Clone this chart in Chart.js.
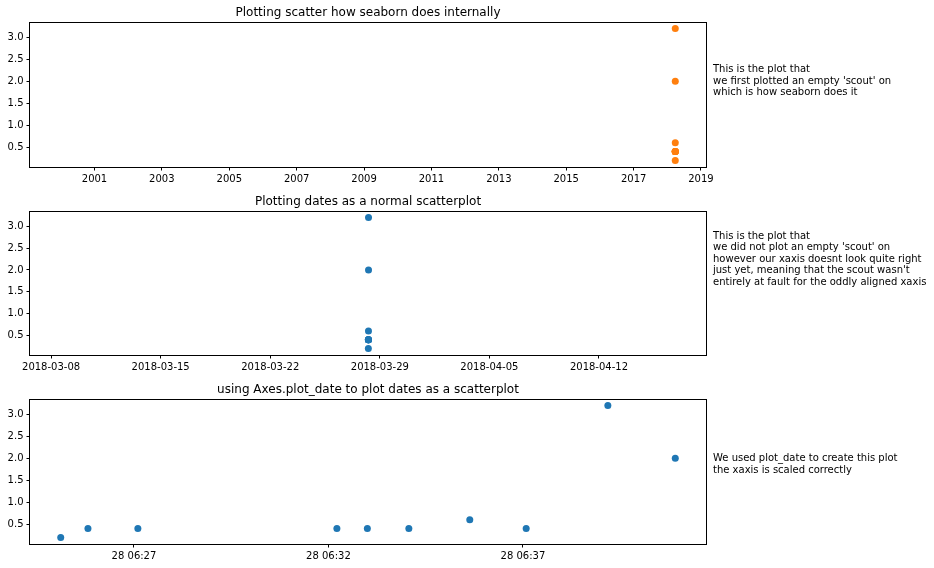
<!DOCTYPE html>
<html lang="en">
<head>
    <meta charset="UTF-8">
    <title>Plotting dates as scatterplots</title>
    <script src="https://cdn.jsdelivr.net/npm/chart.js"></script>
    <style>
        body {
            margin: 0;
            background: #fff;
            font-family: 'DejaVu Sans', sans-serif;
        }
        .page {
            position: relative;
            width: 934px;
            height: 568px;
        }
        .panel {
            position: absolute;
            left: 0;
            width: 736px;
        }
        .note {
            position: absolute;
            left: 713px;
            font-size: 10px;
            line-height: 11.6px;
            color: #000;
            white-space: pre;
        }
    </style>
</head>
<body>
    <div class="page">
        <div class="panel" style="top:0;height:189px"><canvas id="chartTop"></canvas></div>
        <div class="panel" style="top:189px;height:188px"><canvas id="chartMid"></canvas></div>
        <div class="panel" style="top:377px;height:189px"><canvas id="chartBottom"></canvas></div>

        <div class="note" style="top:63px">This is the plot that
we first plotted an empty 'scout' on
which is how seaborn does it</div>
        <div class="note" style="top:229.5px">This is the plot that
we did not plot an empty 'scout' on
however our xaxis doesnt look quite right
just yet, meaning that the scout wasn't
entirely at fault for the oddly aligned xaxis</div>
        <div class="note" style="top:452px">We used plot_date to create this plot
the xaxis is scaled correctly</div>
    </div>

    <script>
        // data shared by all three panels
        const pointTimes = [
            '2018-03-28T06:25:07', '2018-03-28T06:25:49', '2018-03-28T06:27:06',
            '2018-03-28T06:32:13', '2018-03-28T06:33:00', '2018-03-28T06:34:04',
            '2018-03-28T06:35:38', '2018-03-28T06:37:05', '2018-03-28T06:39:11',
            '2018-03-28T06:40:55'
        ];
        const pointValues = [0.2, 0.4, 0.4, 0.4, 0.4, 0.4, 0.6, 0.4, 3.2, 2.0];
        const yTicks = [0.5, 1.0, 1.5, 2.0, 2.5, 3.0];
        const yRange = [0.05, 3.35];

        // panel 1: the empty scout plot started the axis at 2000-01-01
        const scoutStart = '2000-01-01';
        const topTicks = ['2001', '2003', '2005', '2007', '2009', '2011', '2013', '2015', '2017', '2019'];

        // panel 2: plain scatter, matplotlib picked this odd range
        const midTicks = ['2018-03-08', '2018-03-15', '2018-03-22', '2018-03-29', '2018-04-05', '2018-04-12'];
        const midRange = ['2018-03-06T15:40:00', '2018-04-18T20:05:00'];

        // panel 3: plot_date
        const bottomTicks = ['2018-03-28T06:27:00', '2018-03-28T06:32:00', '2018-03-28T06:37:00'];

        const ORANGE = '#ff7f0e';
        const BLUE = '#1f77b4';

        Chart.defaults.font.family = "'DejaVu Sans', sans-serif";
        Chart.defaults.color = '#000';

        // string -> ms (UTC)
        function ms(s) {
            if (s.length === 4) s += '-01-01';
            if (s.length === 10) s += 'T00:00:00';
            return Date.parse(s + 'Z');
        }

        function padRange(a, b) {
            const d = (b - a) * 0.05;
            return [a - d, b + d];
        }

        const fmtYear = v => String(new Date(v).getUTCFullYear());
        const fmtDay = v => new Date(v).toISOString().slice(0, 10);
        const fmtClock = v => {
            const iso = new Date(v).toISOString();
            return iso.slice(8, 10) + ' ' + iso.slice(11, 16);
        };

        // matplotlib style box around the axes
        const frame = {
            id: 'frame',
            afterDraw(chart) {
                const a = chart.chartArea;
                const ctx = chart.ctx;
                ctx.save();
                ctx.strokeStyle = '#000';
                ctx.lineWidth = 1;
                ctx.strokeRect(Math.round(a.left) - 0.5, Math.round(a.top) + 0.5,
                    Math.round(a.right - a.left) + 1, Math.round(a.bottom - a.top));
                ctx.restore();
            }
        };

        function makeChart(id, title, color, xRange, xTicks, fmt) {
            const points = pointTimes.map((t, i) => ({ x: ms(t), y: pointValues[i] }));
            return new Chart(document.getElementById(id), {
                type: 'scatter',
                data: {
                    datasets: [{
                        data: points,
                        backgroundColor: color,
                        borderColor: color,
                        borderWidth: 0,
                        pointRadius: 3.5
                    }]
                },
                options: {
                    responsive: true,
                    maintainAspectRatio: false,
                    animation: false,
                    layout: { padding: { left: 0, right: 30, top: 0, bottom: 0 } },
                    plugins: {
                        legend: { display: false },
                        tooltip: { enabled: false },
                        title: {
                            display: true,
                            fullSize: false,
                            text: title,
                            color: '#000',
                            font: { size: 12, weight: 'normal' },
                            padding: { top: 6, bottom: 1.6 }
                        }
                    },
                    scales: {
                        x: {
                            type: 'linear',
                            min: xRange[0],
                            max: xRange[1],
                            afterBuildTicks: s => { s.ticks = xTicks.map(t => ({ value: ms(t) })); },
                            afterFit: s => { s.height = 22; },
                            border: { display: false },
                            grid: { drawOnChartArea: false, tickLength: 3.5, color: '#000' },
                            ticks: {
                                autoSkip: false,
                                maxRotation: 0,
                                padding: 3,
                                color: '#000',
                                font: { size: 10 },
                                callback: v => fmt(v)
                            }
                        },
                        y: {
                            min: yRange[0],
                            max: yRange[1],
                            afterBuildTicks: s => { s.ticks = yTicks.map(v => ({ value: v })); },
                            afterFit: s => { s.width = 30; },
                            border: { display: false },
                            grid: { drawOnChartArea: false, tickLength: 3.5, color: '#000' },
                            ticks: {
                                padding: 3,
                                color: '#000',
                                font: { size: 10 },
                                callback: v => Number(v).toFixed(1)
                            }
                        }
                    }
                },
                plugins: [frame]
            });
        }

        const lastTime = ms(pointTimes[pointTimes.length - 1]);

        makeChart('chartTop', 'Plotting scatter how seaborn does internally', ORANGE,
            padRange(ms(scoutStart), lastTime), topTicks, fmtYear);

        makeChart('chartMid', 'Plotting dates as a normal scatterplot', BLUE,
            [ms(midRange[0]), ms(midRange[1])], midTicks, fmtDay);

        makeChart('chartBottom', 'using Axes.plot_date to plot dates as a scatterplot', BLUE,
            padRange(ms(pointTimes[0]), lastTime), bottomTicks, fmtClock);
    </script>
</body>
</html>
